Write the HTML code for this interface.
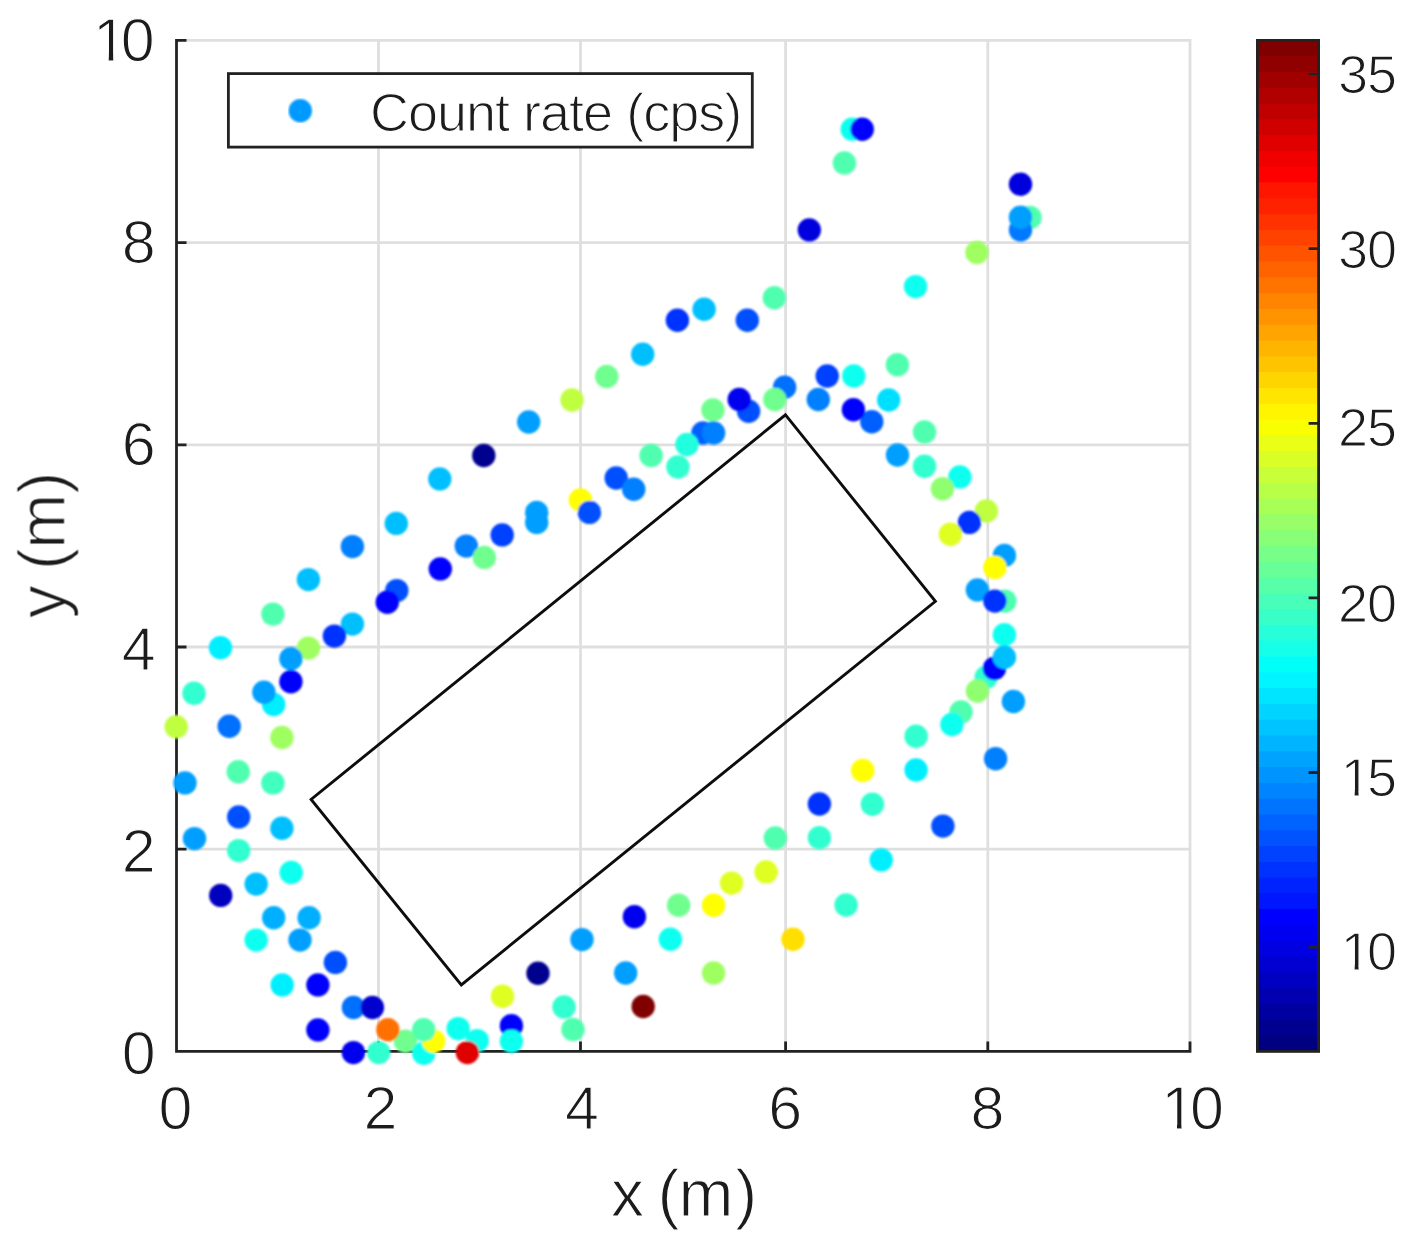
<!DOCTYPE html>
<html lang="en"><head><meta charset="utf-8"><title>Count rate scatter</title>
<style>html,body{margin:0;padding:0;background:#fff}body{width:1421px;height:1242px;overflow:hidden}svg{display:block}text{font-family:"Liberation Sans",Arial,Helvetica,sans-serif;fill:#1c1c1c;stroke:#fff;stroke-width:1.25px;paint-order:fill stroke}</style></head><body>
<svg width="1421" height="1242" viewBox="0 0 1421 1242">
<defs><filter id="b" x="-2%" y="-2%" width="104%" height="104%"><feGaussianBlur stdDeviation="0.80"/></filter><filter id="t" x="-2%" y="-2%" width="104%" height="104%"><feGaussianBlur stdDeviation="0.60"/></filter><filter id="l" x="-2%" y="-2%" width="104%" height="104%"><feGaussianBlur stdDeviation="0.30"/></filter><clipPath id="c0"><path clip-rule="evenodd" d="M1157.2 1074.4H1232.7V1132.3H1157.2ZM1158.2 1122.9H1177.0V1131.3H1158.2ZM1181.4 1122.9H1192.9V1131.3H1181.4Z"/></clipPath><clipPath id="c1"><path clip-rule="evenodd" d="M89.0 6.1H163.5V64.0H89.0ZM90.0 54.6H108.8V63.0H90.0ZM113.2 54.6H124.7V63.0H113.2Z"/></clipPath><clipPath id="c2"><path clip-rule="evenodd" d="M1336.7 921.6H1404.8V973.2H1336.7ZM1337.7 964.5H1354.7V972.2H1337.7ZM1358.5 964.5H1368.8V972.2H1358.5Z"/></clipPath><clipPath id="c3"><path clip-rule="evenodd" d="M1336.7 747.7H1404.8V799.3H1336.7ZM1337.7 790.6H1354.7V798.3H1337.7ZM1358.5 790.6H1368.8V798.3H1358.5Z"/></clipPath></defs>
<rect width="1421" height="1242" fill="#fff"/>
<g filter="url(#l)"><path d="M378.5 39.0V1051.4M580.5 39.0V1051.4M785.6 39.0V1051.4M987.8 39.0V1051.4M1190.0 39.0V1051.4M176.5 40.4H1191.4M176.5 242.6H1191.4M176.5 444.8H1191.4M176.5 647.0H1191.4M176.5 849.2H1191.4" stroke="#dfdfdf" stroke-width="2.8" fill="none"/>
<path d="M176.5 39.0V1051.4H1191.4M176.5 1051.4V1041.4M378.5 1051.4V1041.4M580.5 1051.4V1041.4M785.6 1051.4V1041.4M987.8 1051.4V1041.4M1190.0 1051.4V1041.4M176.5 40.4H186.5M176.5 242.6H186.5M176.5 444.8H186.5M176.5 647.0H186.5M176.5 849.2H186.5M176.5 1051.4H186.5" stroke="#242424" stroke-width="2.8" fill="none"/></g>
<g filter="url(#t)"><path d="M785.5 414.8 L935.4 601.3 L461.3 984.9 L311.1 799.4 Z" stroke="#101010" stroke-width="2.9" fill="none" stroke-linejoin="miter"/></g>
<g filter="url(#b)"><circle cx="483.8" cy="455.5" r="11.7" fill="#00008f"/>
<circle cx="439.8" cy="478.9" r="11.7" fill="#00bfff"/>
<circle cx="396.3" cy="523.4" r="11.7" fill="#00bfff"/>
<circle cx="502.2" cy="534.9" r="11.7" fill="#0040ff"/>
<circle cx="466.3" cy="546.1" r="11.7" fill="#0080ff"/>
<circle cx="484.3" cy="557.4" r="11.7" fill="#70ff8f"/>
<circle cx="352.4" cy="546.6" r="11.7" fill="#0080ff"/>
<circle cx="440.3" cy="568.9" r="11.7" fill="#0000ff"/>
<circle cx="308.4" cy="579.6" r="11.7" fill="#00bfff"/>
<circle cx="396.8" cy="590.6" r="11.7" fill="#0050ff"/>
<circle cx="387.3" cy="602.3" r="11.7" fill="#0000ff"/>
<circle cx="272.9" cy="614.1" r="11.7" fill="#50ffaf"/>
<circle cx="352.4" cy="624.1" r="11.7" fill="#00bfff"/>
<circle cx="334.4" cy="636.1" r="11.7" fill="#0030ff"/>
<circle cx="220.5" cy="647.8" r="11.7" fill="#00efff"/>
<circle cx="308.4" cy="648.1" r="11.7" fill="#9fff60"/>
<circle cx="290.9" cy="658.8" r="11.7" fill="#009fff"/>
<circle cx="290.9" cy="681.8" r="11.7" fill="#0000ff"/>
<circle cx="194.0" cy="693.3" r="11.7" fill="#30ffcf"/>
<circle cx="273.7" cy="704.5" r="11.7" fill="#00efff"/>
<circle cx="263.9" cy="692.3" r="11.7" fill="#009fff"/>
<circle cx="528.7" cy="422.0" r="11.7" fill="#009fff"/>
<circle cx="572.0" cy="400.0" r="11.7" fill="#bfff40"/>
<circle cx="712.9" cy="410.0" r="11.7" fill="#70ff8f"/>
<circle cx="748.6" cy="411.2" r="11.7" fill="#0050ff"/>
<circle cx="739.2" cy="399.5" r="11.7" fill="#0000ef"/>
<circle cx="784.6" cy="387.3" r="11.7" fill="#0070ff"/>
<circle cx="774.8" cy="399.5" r="11.7" fill="#70ff8f"/>
<circle cx="818.3" cy="399.5" r="11.7" fill="#0080ff"/>
<circle cx="871.8" cy="421.8" r="11.7" fill="#0060ff"/>
<circle cx="853.4" cy="409.8" r="11.7" fill="#0000ff"/>
<circle cx="702.9" cy="433.0" r="11.7" fill="#0060ff"/>
<circle cx="713.6" cy="433.0" r="11.7" fill="#0080ff"/>
<circle cx="686.9" cy="444.5" r="11.7" fill="#20ffdf"/>
<circle cx="651.1" cy="455.5" r="11.7" fill="#50ffaf"/>
<circle cx="677.9" cy="467.0" r="11.7" fill="#30ffcf"/>
<circle cx="616.2" cy="478.0" r="11.7" fill="#0050ff"/>
<circle cx="633.7" cy="489.2" r="11.7" fill="#0080ff"/>
<circle cx="580.4" cy="500.0" r="11.7" fill="#ffff00"/>
<circle cx="589.4" cy="512.4" r="11.7" fill="#0050ff"/>
<circle cx="536.7" cy="512.4" r="11.7" fill="#009fff"/>
<circle cx="536.7" cy="522.4" r="11.7" fill="#009fff"/>
<circle cx="888.7" cy="400.0" r="11.7" fill="#00dfff"/>
<circle cx="924.5" cy="432.0" r="11.7" fill="#50ffaf"/>
<circle cx="897.5" cy="455.0" r="11.7" fill="#009fff"/>
<circle cx="924.5" cy="466.2" r="11.7" fill="#30ffcf"/>
<circle cx="959.9" cy="476.9" r="11.7" fill="#10ffef"/>
<circle cx="942.4" cy="488.7" r="11.7" fill="#8fff70"/>
<circle cx="986.4" cy="510.9" r="11.7" fill="#bfff40"/>
<circle cx="969.4" cy="522.4" r="11.7" fill="#0030ff"/>
<circle cx="950.4" cy="534.2" r="11.7" fill="#dfff20"/>
<circle cx="1004.4" cy="555.4" r="11.7" fill="#009fff"/>
<circle cx="994.9" cy="567.4" r="11.7" fill="#ffff00"/>
<circle cx="977.4" cy="589.9" r="11.7" fill="#009fff"/>
<circle cx="1004.8" cy="601.1" r="11.7" fill="#50ffaf"/>
<circle cx="994.9" cy="601.1" r="11.7" fill="#0030ff"/>
<circle cx="1004.4" cy="634.8" r="11.7" fill="#10ffef"/>
<circle cx="986.2" cy="677.3" r="11.7" fill="#30ffcf"/>
<circle cx="994.4" cy="668.5" r="11.7" fill="#0000ff"/>
<circle cx="1004.4" cy="657.3" r="11.7" fill="#00bfff"/>
<circle cx="977.4" cy="691.0" r="11.7" fill="#8fff70"/>
<circle cx="1013.4" cy="701.5" r="11.7" fill="#009fff"/>
<circle cx="961.0" cy="712.0" r="11.7" fill="#50ffaf"/>
<circle cx="951.9" cy="724.5" r="11.7" fill="#10ffef"/>
<circle cx="852.2" cy="129.2" r="11.7" fill="#10ffef"/>
<circle cx="862.2" cy="129.3" r="11.7" fill="#0000ff"/>
<circle cx="844.4" cy="162.9" r="11.7" fill="#50ffaf"/>
<circle cx="809.3" cy="229.9" r="11.7" fill="#0000df"/>
<circle cx="774.3" cy="297.8" r="11.7" fill="#50ffaf"/>
<circle cx="704.1" cy="309.3" r="11.7" fill="#00bfff"/>
<circle cx="677.4" cy="320.3" r="11.7" fill="#0030ff"/>
<circle cx="747.3" cy="320.3" r="11.7" fill="#0050ff"/>
<circle cx="642.7" cy="354.3" r="11.7" fill="#00bfff"/>
<circle cx="606.7" cy="376.5" r="11.7" fill="#70ff8f"/>
<circle cx="827.2" cy="376.0" r="11.7" fill="#0040ff"/>
<circle cx="853.8" cy="376.0" r="11.7" fill="#10ffef"/>
<circle cx="1020.5" cy="184.3" r="11.7" fill="#0000df"/>
<circle cx="1030.0" cy="217.5" r="11.7" fill="#50ffaf"/>
<circle cx="1020.5" cy="230.0" r="11.7" fill="#0078ff"/>
<circle cx="1020.5" cy="217.2" r="11.7" fill="#009fff"/>
<circle cx="976.9" cy="252.4" r="11.7" fill="#9fff60"/>
<circle cx="915.6" cy="286.6" r="11.7" fill="#10ffef"/>
<circle cx="897.4" cy="364.8" r="11.7" fill="#50ffaf"/>
<circle cx="176.2" cy="726.7" r="11.7" fill="#bfff40"/>
<circle cx="229.2" cy="726.2" r="11.7" fill="#0070ff"/>
<circle cx="281.9" cy="737.5" r="11.7" fill="#9fff60"/>
<circle cx="238.2" cy="771.7" r="11.7" fill="#50ffaf"/>
<circle cx="185.0" cy="782.9" r="11.7" fill="#009fff"/>
<circle cx="272.9" cy="782.9" r="11.7" fill="#40ffbf"/>
<circle cx="238.7" cy="816.9" r="11.7" fill="#0050ff"/>
<circle cx="281.9" cy="828.2" r="11.7" fill="#00bfff"/>
<circle cx="194.5" cy="838.6" r="11.7" fill="#009fff"/>
<circle cx="238.7" cy="850.6" r="11.7" fill="#30ffcf"/>
<circle cx="291.2" cy="872.4" r="11.7" fill="#10ffef"/>
<circle cx="256.2" cy="884.1" r="11.7" fill="#00bfff"/>
<circle cx="220.7" cy="895.4" r="11.7" fill="#0000bf"/>
<circle cx="273.7" cy="917.8" r="11.7" fill="#00afff"/>
<circle cx="309.1" cy="917.8" r="11.7" fill="#00afff"/>
<circle cx="256.2" cy="940.1" r="11.7" fill="#10ffef"/>
<circle cx="300.0" cy="940.1" r="11.7" fill="#009fff"/>
<circle cx="335.4" cy="962.4" r="11.7" fill="#0050ff"/>
<circle cx="282.2" cy="984.9" r="11.7" fill="#00efff"/>
<circle cx="317.9" cy="984.9" r="11.7" fill="#0000ff"/>
<circle cx="353.4" cy="1007.5" r="11.7" fill="#0070ff"/>
<circle cx="372.4" cy="1007.5" r="11.7" fill="#0000cf"/>
<circle cx="502.5" cy="996.2" r="11.7" fill="#dfff20"/>
<circle cx="862.7" cy="770.4" r="11.7" fill="#ffff00"/>
<circle cx="819.4" cy="804.0" r="11.7" fill="#0030ff"/>
<circle cx="872.4" cy="804.2" r="11.7" fill="#30ffcf"/>
<circle cx="775.3" cy="838.0" r="11.7" fill="#50ffaf"/>
<circle cx="819.4" cy="837.7" r="11.7" fill="#30ffcf"/>
<circle cx="766.1" cy="871.9" r="11.7" fill="#dfff20"/>
<circle cx="731.6" cy="883.1" r="11.7" fill="#dfff20"/>
<circle cx="713.6" cy="905.3" r="11.7" fill="#ffff00"/>
<circle cx="678.6" cy="905.3" r="11.7" fill="#70ff8f"/>
<circle cx="634.4" cy="916.8" r="11.7" fill="#0000ef"/>
<circle cx="846.1" cy="905.0" r="11.7" fill="#30ffcf"/>
<circle cx="582.0" cy="939.6" r="11.7" fill="#009fff"/>
<circle cx="670.4" cy="939.3" r="11.7" fill="#10ffef"/>
<circle cx="793.0" cy="939.2" r="11.7" fill="#ffdf00"/>
<circle cx="538.0" cy="973.3" r="11.7" fill="#00008f"/>
<circle cx="625.7" cy="973.0" r="11.7" fill="#009fff"/>
<circle cx="713.6" cy="973.0" r="11.7" fill="#9fff60"/>
<circle cx="564.0" cy="1007.0" r="11.7" fill="#30ffcf"/>
<circle cx="643.2" cy="1006.5" r="11.7" fill="#800000"/>
<circle cx="916.1" cy="736.2" r="11.7" fill="#30ffcf"/>
<circle cx="995.6" cy="758.7" r="11.7" fill="#0080ff"/>
<circle cx="916.1" cy="769.9" r="11.7" fill="#00efff"/>
<circle cx="942.9" cy="826.1" r="11.7" fill="#0050ff"/>
<circle cx="881.2" cy="859.9" r="11.7" fill="#00efff"/>
<circle cx="317.9" cy="1029.9" r="11.7" fill="#0000ff"/>
<circle cx="353.4" cy="1052.6" r="11.7" fill="#0000ef"/>
<circle cx="378.7" cy="1052.6" r="11.7" fill="#30ffcf"/>
<circle cx="405.4" cy="1041.3" r="11.7" fill="#70ff8f"/>
<circle cx="387.9" cy="1029.8" r="11.7" fill="#ff6f00"/>
<circle cx="423.7" cy="1053.3" r="11.7" fill="#10ffef"/>
<circle cx="433.6" cy="1041.3" r="11.7" fill="#ffff00"/>
<circle cx="423.7" cy="1029.8" r="11.7" fill="#50ffaf"/>
<circle cx="458.2" cy="1028.6" r="11.7" fill="#10ffef"/>
<circle cx="477.2" cy="1040.6" r="11.7" fill="#10ffef"/>
<circle cx="467.4" cy="1052.6" r="11.7" fill="#df0000"/>
<circle cx="511.4" cy="1025.8" r="11.7" fill="#0000ff"/>
<circle cx="511.4" cy="1041.3" r="11.7" fill="#10ffef"/>
<circle cx="573.0" cy="1029.4" r="11.7" fill="#50ffaf"/></g>
<g filter="url(#l)"><rect x="228.4" y="73.6" width="523.9" height="73.5" fill="#fff" stroke="#242424" stroke-width="2.8"/>
<rect x="1257.4" y="40.40" width="61.2" height="1011.00" fill="#800000"/>
<rect x="1257.4" y="56.20" width="61.2" height="995.20" fill="#900000"/>
<rect x="1257.4" y="71.99" width="61.2" height="979.41" fill="#a00000"/>
<rect x="1257.4" y="87.79" width="61.2" height="963.61" fill="#b00000"/>
<rect x="1257.4" y="103.59" width="61.2" height="947.81" fill="#c00000"/>
<rect x="1257.4" y="119.38" width="61.2" height="932.02" fill="#d00000"/>
<rect x="1257.4" y="135.18" width="61.2" height="916.22" fill="#e10000"/>
<rect x="1257.4" y="150.98" width="61.2" height="900.42" fill="#f10000"/>
<rect x="1257.4" y="166.77" width="61.2" height="884.63" fill="#ff0200"/>
<rect x="1257.4" y="182.57" width="61.2" height="868.83" fill="#ff1200"/>
<rect x="1257.4" y="198.37" width="61.2" height="853.03" fill="#ff2200"/>
<rect x="1257.4" y="214.17" width="61.2" height="837.23" fill="#ff3300"/>
<rect x="1257.4" y="229.96" width="61.2" height="821.44" fill="#ff4300"/>
<rect x="1257.4" y="245.76" width="61.2" height="805.64" fill="#ff5300"/>
<rect x="1257.4" y="261.56" width="61.2" height="789.84" fill="#ff6300"/>
<rect x="1257.4" y="277.35" width="61.2" height="774.05" fill="#ff7300"/>
<rect x="1257.4" y="293.15" width="61.2" height="758.25" fill="#ff8400"/>
<rect x="1257.4" y="308.95" width="61.2" height="742.45" fill="#ff9400"/>
<rect x="1257.4" y="324.74" width="61.2" height="726.66" fill="#ffa400"/>
<rect x="1257.4" y="340.54" width="61.2" height="710.86" fill="#ffb400"/>
<rect x="1257.4" y="356.34" width="61.2" height="695.06" fill="#ffc400"/>
<rect x="1257.4" y="372.13" width="61.2" height="679.27" fill="#ffd500"/>
<rect x="1257.4" y="387.93" width="61.2" height="663.47" fill="#ffe500"/>
<rect x="1257.4" y="403.73" width="61.2" height="647.67" fill="#fff500"/>
<rect x="1257.4" y="419.52" width="61.2" height="631.88" fill="#f9ff06"/>
<rect x="1257.4" y="435.32" width="61.2" height="616.08" fill="#e9ff16"/>
<rect x="1257.4" y="451.12" width="61.2" height="600.28" fill="#d9ff26"/>
<rect x="1257.4" y="466.92" width="61.2" height="584.48" fill="#c8ff37"/>
<rect x="1257.4" y="482.71" width="61.2" height="568.69" fill="#b8ff47"/>
<rect x="1257.4" y="498.51" width="61.2" height="552.89" fill="#a8ff57"/>
<rect x="1257.4" y="514.31" width="61.2" height="537.09" fill="#98ff67"/>
<rect x="1257.4" y="530.10" width="61.2" height="521.30" fill="#88ff77"/>
<rect x="1257.4" y="545.90" width="61.2" height="505.50" fill="#77ff88"/>
<rect x="1257.4" y="561.70" width="61.2" height="489.70" fill="#67ff98"/>
<rect x="1257.4" y="577.49" width="61.2" height="473.91" fill="#57ffa8"/>
<rect x="1257.4" y="593.29" width="61.2" height="458.11" fill="#47ffb8"/>
<rect x="1257.4" y="609.09" width="61.2" height="442.31" fill="#37ffc8"/>
<rect x="1257.4" y="624.88" width="61.2" height="426.52" fill="#26ffd9"/>
<rect x="1257.4" y="640.68" width="61.2" height="410.72" fill="#16ffe9"/>
<rect x="1257.4" y="656.48" width="61.2" height="394.92" fill="#06fff9"/>
<rect x="1257.4" y="672.28" width="61.2" height="379.12" fill="#00f5ff"/>
<rect x="1257.4" y="688.07" width="61.2" height="363.33" fill="#00e5ff"/>
<rect x="1257.4" y="703.87" width="61.2" height="347.53" fill="#00d4ff"/>
<rect x="1257.4" y="719.67" width="61.2" height="331.73" fill="#00c4ff"/>
<rect x="1257.4" y="735.46" width="61.2" height="315.94" fill="#00b4ff"/>
<rect x="1257.4" y="751.26" width="61.2" height="300.14" fill="#00a4ff"/>
<rect x="1257.4" y="767.06" width="61.2" height="284.34" fill="#0094ff"/>
<rect x="1257.4" y="782.85" width="61.2" height="268.55" fill="#0084ff"/>
<rect x="1257.4" y="798.65" width="61.2" height="252.75" fill="#0073ff"/>
<rect x="1257.4" y="814.45" width="61.2" height="236.95" fill="#0063ff"/>
<rect x="1257.4" y="830.24" width="61.2" height="221.16" fill="#0053ff"/>
<rect x="1257.4" y="846.04" width="61.2" height="205.36" fill="#0043ff"/>
<rect x="1257.4" y="861.84" width="61.2" height="189.56" fill="#0033ff"/>
<rect x="1257.4" y="877.63" width="61.2" height="173.77" fill="#0022ff"/>
<rect x="1257.4" y="893.43" width="61.2" height="157.97" fill="#0012ff"/>
<rect x="1257.4" y="909.23" width="61.2" height="142.17" fill="#0002ff"/>
<rect x="1257.4" y="925.03" width="61.2" height="126.38" fill="#0000f1"/>
<rect x="1257.4" y="940.82" width="61.2" height="110.58" fill="#0000e1"/>
<rect x="1257.4" y="956.62" width="61.2" height="94.78" fill="#0000d0"/>
<rect x="1257.4" y="972.42" width="61.2" height="78.98" fill="#0000c0"/>
<rect x="1257.4" y="988.21" width="61.2" height="63.19" fill="#0000b0"/>
<rect x="1257.4" y="1004.01" width="61.2" height="47.39" fill="#0000a0"/>
<rect x="1257.4" y="1019.81" width="61.2" height="31.59" fill="#000090"/>
<rect x="1257.4" y="1035.60" width="61.2" height="15.80" fill="#000080"/>
<rect x="1257.4" y="40.4" width="61.2" height="1011.0" fill="none" stroke="#242424" stroke-width="2.8"/>
<path d="M1318.6 947.1H1308.6M1318.6 772.5H1308.6M1318.6 597.9H1308.6M1318.6 423.3H1308.6M1318.6 248.7H1308.6M1318.6 74.1H1308.6" stroke="#242424" stroke-width="2.8" fill="none"/></g>
<g filter="url(#b)"><circle cx="300.3" cy="110.8" r="11.7" fill="#0099ff"/></g>
<g filter="url(#t)"><text x="370" y="131" font-size="54" letter-spacing="-1">Count rate (cps)</text>
<text x="175.5" y="1129.3" font-size="61" text-anchor="middle">0</text>
<text x="380.5" y="1129.3" font-size="61" text-anchor="middle">2</text>
<text x="582.0" y="1129.3" font-size="61" text-anchor="middle">4</text>
<text x="785.1" y="1129.3" font-size="61" text-anchor="middle">6</text>
<text x="987.5" y="1129.3" font-size="61" text-anchor="middle">8</text>
<text x="1161.2 1190.0" y="1129.3" font-size="61" clip-path="url(#c0)">10</text>
<text x="93.0 120.8" y="61.0" font-size="61" clip-path="url(#c1)">10</text>
<text x="155.6" y="263.2" font-size="61" text-anchor="end">8</text>
<text x="155.6" y="465.4" font-size="61" text-anchor="end">6</text>
<text x="155.6" y="670.4" font-size="61" text-anchor="end">4</text>
<text x="155.6" y="872.4" font-size="61" text-anchor="end">2</text>
<text x="155.6" y="1074.2" font-size="61" text-anchor="end">0</text>
<text x="610.9 642.9 657.4 678.5 735.2" y="1215.7" font-size="66">x (m)</text>
<text transform="translate(64.6 545.5) rotate(-90)" x="-72.7 -40.7 -24.6 -3.3 51.7" y="0" font-size="66">y (m)</text>
<text x="1340.7 1367.0" y="970.2" font-size="54" clip-path="url(#c2)">10</text>
<text x="1340.7 1367.0" y="796.3" font-size="54" clip-path="url(#c3)">15</text>
<text x="1338" y="621.5" font-size="54" letter-spacing="-1">20</text>
<text x="1338" y="446.3" font-size="54" letter-spacing="-1">25</text>
<text x="1338" y="268.2" font-size="54" letter-spacing="-1">30</text>
<text x="1338" y="93.3" font-size="54" letter-spacing="-1">35</text></g>
</svg></body></html>
